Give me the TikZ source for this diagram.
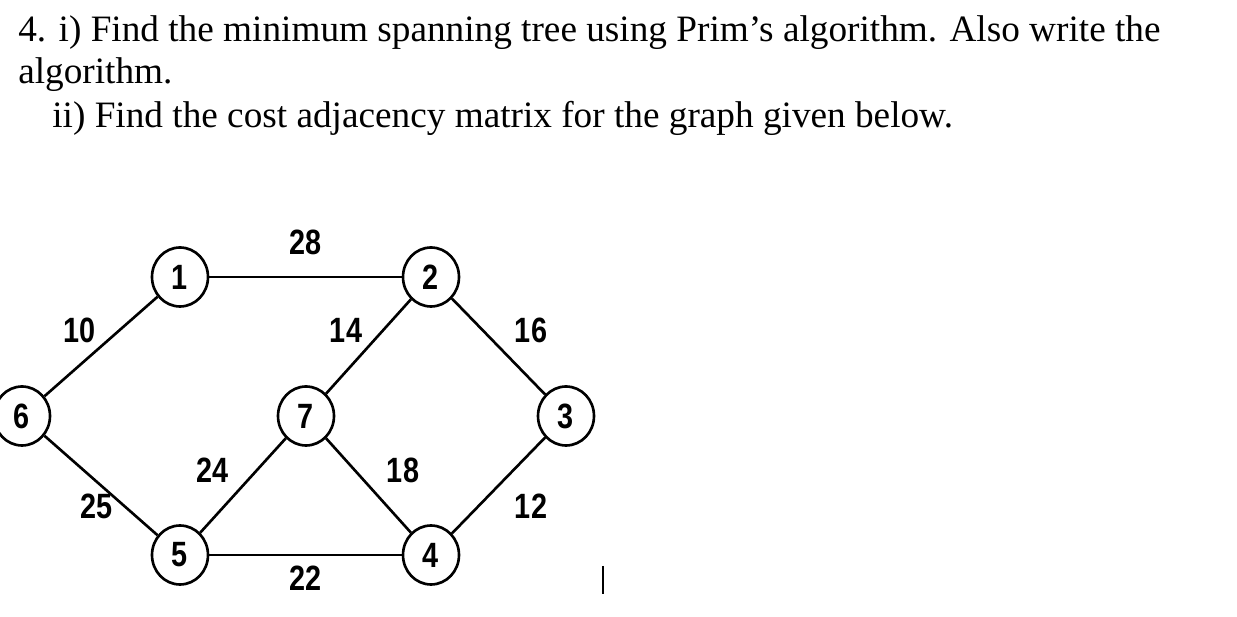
\documentclass[tikz,border=0pt]{standalone}
\usepackage{fontspec}
\usetikzlibrary{shapes.geometric}
\setmainfont{Liberation Serif}
\newfontfamily\lab[FakeStretch=0.82]{Liberation Sans Bold}
\begin{document}
\begin{tikzpicture}[x=0.02cm,y=-0.02cm,
  vert/.style={draw,line width=1.5pt,ellipse,minimum width=1.12cm,minimum height=1.18cm,inner sep=0pt,font=\lab\fontsize{20}{20}\selectfont},
  wt/.style={font=\lab\fontsize{20}{20}\selectfont},
  ed/.style={line width=1.5pt},
  q/.style={anchor=base west,font=\fontsize{21.2}{21.2}\selectfont,inner sep=0pt}]
\useasboundingbox (0,0) rectangle (1237,617);
\node[q] (t1) at (18,42) {4. i) Find the minimum spanning tree using Prim’s algorithm. Also write the};
\node[q] (t2) at (18,84) {algorithm.};
\node[q] (t3) at (52,128) {ii) Find the cost adjacency matrix for the graph given below.};
\node[vert] (n1) at (180,277) {1};
\node[vert] (n2) at (431,277) {2};
\node[vert] (n6) at (22,416) {6};
\node[vert] (n7) at (306,416) {7};
\node[vert] (n3) at (566,416) {3};
\node[vert] (n5) at (180,555) {5};
\node[vert] (n4) at (431,555) {4};
\draw[ed] (n1)--(n2); \draw[ed] (n1)--(n6); \draw[ed] (n6)--(n5);
\draw[ed] (n2)--(n7); \draw[ed] (n2)--(n3); \draw[ed] (n7)--(n5);
\draw[ed] (n7)--(n4); \draw[ed] (n3)--(n4); \draw[ed] (n5)--(n4);
\node[wt] (w28) at (306,242) {28};
\node[wt] (w10) at (80,330) {10};
\node[wt] (w14) at (346,330) {14};
\node[wt] (w16) at (531,330) {16};
\node[wt] (w24) at (213,470) {24};
\node[wt] (w18) at (403,470) {18};
\node[wt] (w25) at (97,506) {25};
\node[wt] (w12) at (531,506) {12};
\node[wt] (w22) at (306,578) {22};
\coordinate (ca) at (603,566); \coordinate (cb) at (603,594);
\draw[line width=0.8pt] (ca)--(cb);
\end{tikzpicture}
\end{document}
